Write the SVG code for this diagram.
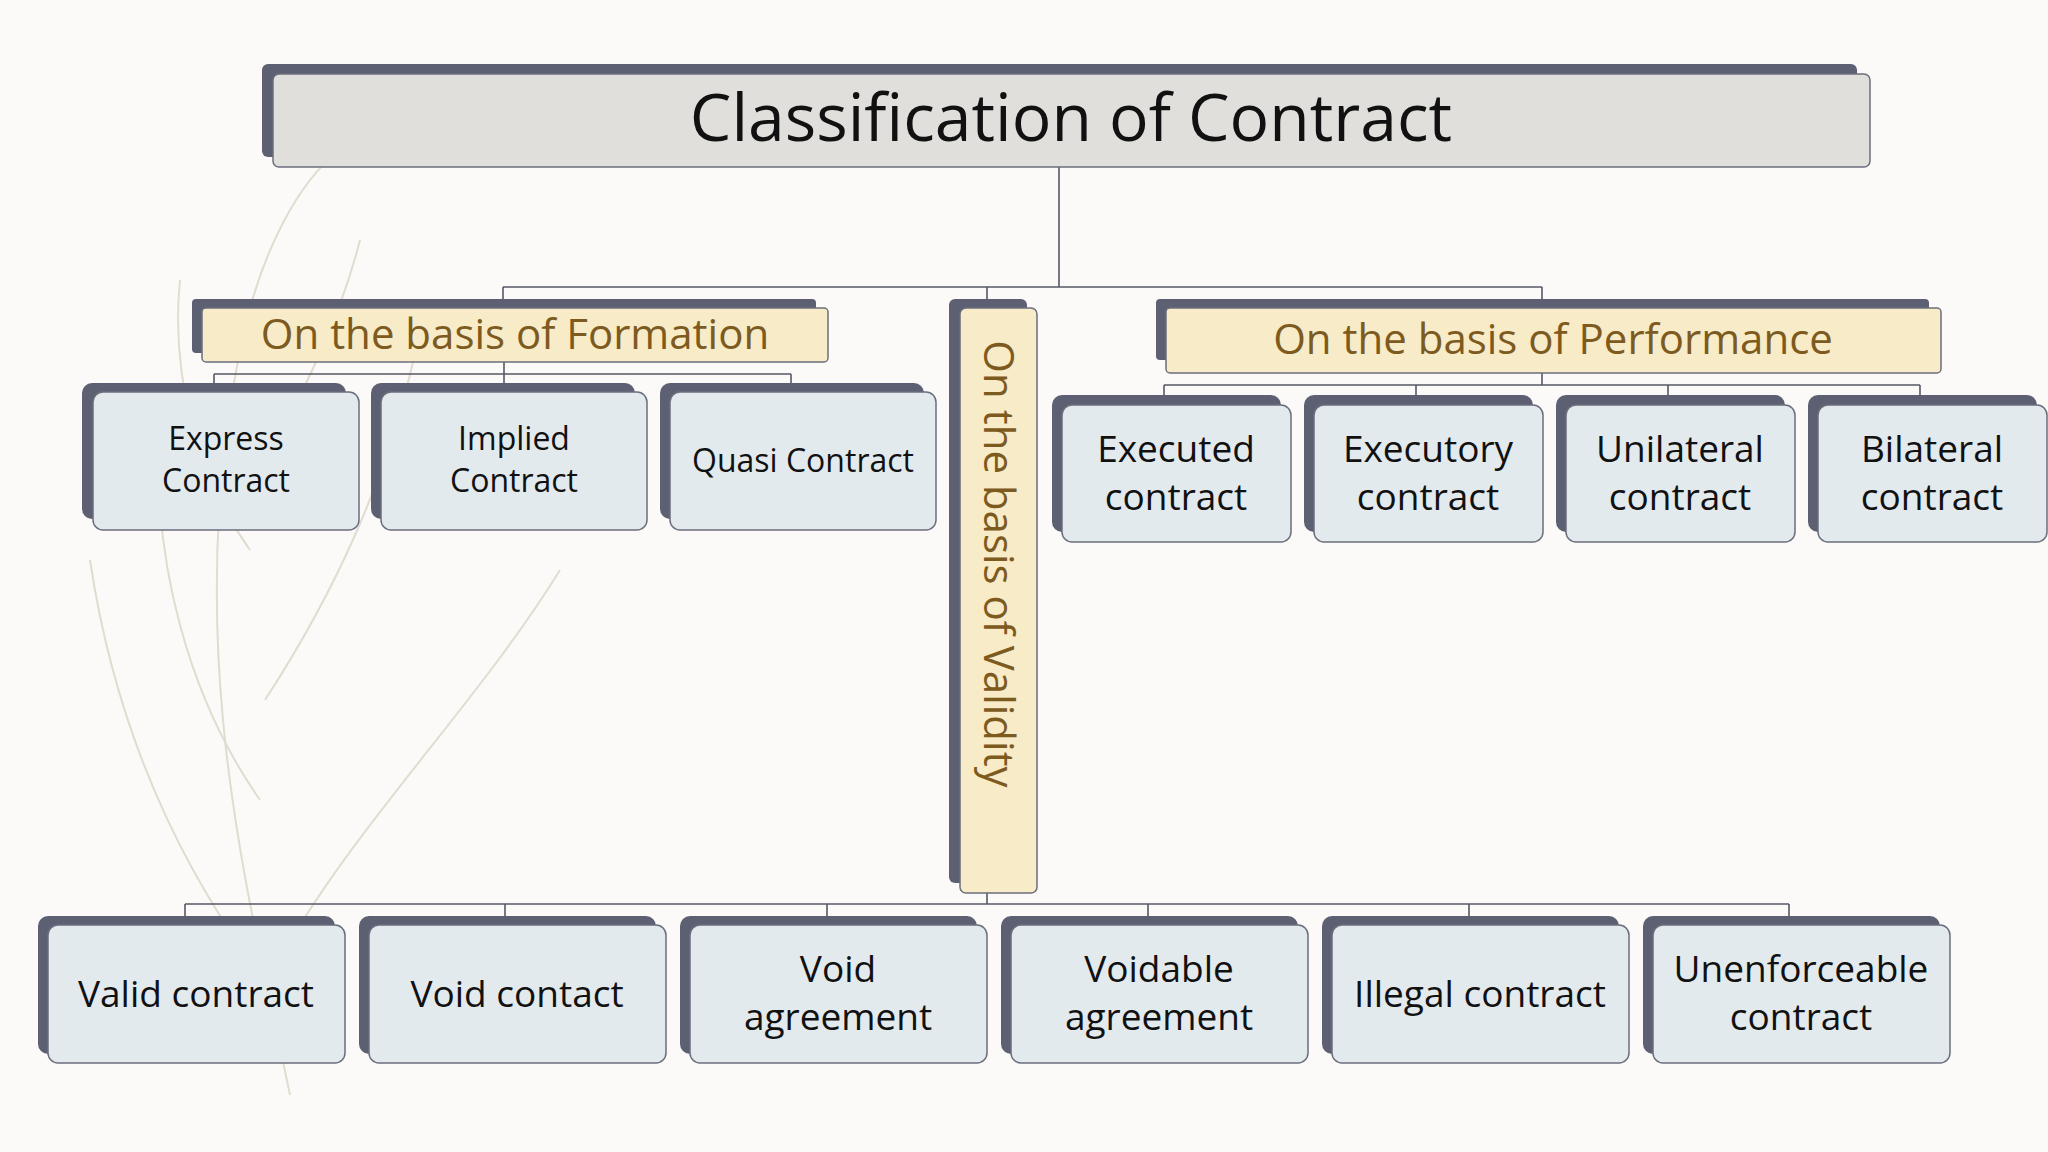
<svg xmlns="http://www.w3.org/2000/svg" width="2048" height="1152" viewBox="0 0 2048 1152">
<style>
.sh{fill:#5d6072}
.bx{fill:#e3eaee;stroke:#6b6e7c;stroke-width:1.5}
.hd{fill:#f7ebc8;stroke:#6b6e7c;stroke-width:1.5}
.t{font-family:"Open Sans","Noto Sans",sans-serif;fill:#111;text-anchor:middle}
.h{font-family:"Open Sans","Noto Sans",sans-serif;fill:#7d5a1e;text-anchor:middle;font-size:42px}
.c{stroke:#555866;stroke-width:1.6;fill:none}
.f{stroke:#e0dcd0;stroke-width:2;fill:none}
</style>
<rect width="2048" height="1152" fill="#fcfaf8"/>
<g id="feather">
<path class="f" d="M290 1095 C250 900 180 650 240 350 C260 250 300 180 340 150"/>
<path class="f" d="M280 1000 C200 900 120 760 90 560"/>
<path class="f" d="M285 950 C360 820 480 700 560 570"/>
<path class="f" d="M260 800 C190 700 150 560 160 420"/>
<path class="f" d="M265 700 C330 600 390 480 420 330"/>
<path class="f" d="M250 550 C200 480 170 380 180 280"/>
<path class="f" d="M255 480 C300 400 340 320 360 240"/>
</g>
<g id="connectors">
<path class="c" d="M1059 167V287M503 287H1542M503 287V308M987 287V309M1542 287V300"/>
<path class="c" d="M504 362V374M214 374H791M214 374V385M504 374V385M791 374V385"/>
<path class="c" d="M1542 373V385M1164 385H1920M1164 385V396M1416 385V396M1668 385V396M1920 385V396"/>
<path class="c" d="M987 893V904M185 904H1789M185 904V918M505 904V918M827 904V918M1148 904V918M1469 904V918M1789 904V918"/>
</g>
<g id="title"><rect class="sh" x="262" y="64" width="1595" height="93" rx="6"/><rect x="273" y="74" width="1597" height="93" rx="6" fill="#e0dfdc" stroke="#6b6e7c" stroke-width="1.5"/><text class="t" x="1071" y="141" font-size="66">Classification of Contract</text></g>
<g id="formation"><rect class="sh" x="192" y="299" width="624" height="54" rx="4"/><rect class="hd" x="202" y="308" width="626" height="54" rx="4"/><text class="h" x="515" y="349">On the basis of Formation</text></g>
<g id="validity"><rect class="sh" x="949" y="299" width="78" height="584" rx="6"/><rect class="hd" x="960" y="308" width="77" height="585" rx="6"/><text class="h" transform="translate(984 564) rotate(90)">On the basis of Validity</text></g>
<g id="performance"><rect class="sh" x="1156" y="299" width="773" height="61" rx="4"/><rect class="hd" x="1166" y="308" width="775" height="65" rx="4"/><text class="h" x="1553" y="354">On the basis of Performance</text></g>
<g id="express"><rect class="sh" x="82" y="383" width="264" height="136" rx="10"/><rect class="bx" x="93" y="392" width="266" height="138" rx="10"/><text class="t" font-size="32" x="226" y="450">Express</text><text class="t" font-size="32" x="226" y="492">Contract</text></g>
<g id="implied"><rect class="sh" x="371" y="383" width="264" height="136" rx="10"/><rect class="bx" x="381" y="392" width="266" height="138" rx="10"/><text class="t" font-size="32" x="514" y="450">Implied</text><text class="t" font-size="32" x="514" y="492">Contract</text></g>
<g id="quasi"><rect class="sh" x="660" y="383" width="264" height="136" rx="10"/><rect class="bx" x="670" y="392" width="266" height="138" rx="10"/><text class="t" font-size="32" x="803" y="472">Quasi Contract</text></g>
<g id="executed"><rect class="sh" x="1052" y="395" width="229" height="137" rx="10"/><rect class="bx" x="1062" y="405" width="229" height="137" rx="10"/><text class="t" font-size="37" x="1176" y="462">Executed</text><text class="t" font-size="37" x="1176" y="510">contract</text></g>
<g id="executory"><rect class="sh" x="1304" y="395" width="229" height="137" rx="10"/><rect class="bx" x="1314" y="405" width="229" height="137" rx="10"/><text class="t" font-size="37" x="1428" y="462">Executory</text><text class="t" font-size="37" x="1428" y="510">contract</text></g>
<g id="unilateral"><rect class="sh" x="1556" y="395" width="229" height="137" rx="10"/><rect class="bx" x="1566" y="405" width="229" height="137" rx="10"/><text class="t" font-size="37" x="1680" y="462">Unilateral</text><text class="t" font-size="37" x="1680" y="510">contract</text></g>
<g id="bilateral"><rect class="sh" x="1808" y="395" width="229" height="137" rx="10"/><rect class="bx" x="1818" y="405" width="229" height="137" rx="10"/><text class="t" font-size="37" x="1932" y="462">Bilateral</text><text class="t" font-size="37" x="1932" y="510">contract</text></g>
<g id="valid"><rect class="sh" x="38" y="916" width="297" height="138" rx="10"/><rect class="bx" x="48" y="925" width="297" height="138" rx="10"/><text class="t" font-size="37" x="196" y="1007">Valid contract</text></g>
<g id="void"><rect class="sh" x="359" y="916" width="297" height="138" rx="10"/><rect class="bx" x="369" y="925" width="297" height="138" rx="10"/><text class="t" font-size="37" x="517" y="1007">Void contact</text></g>
<g id="voidagr"><rect class="sh" x="680" y="916" width="297" height="138" rx="10"/><rect class="bx" x="690" y="925" width="297" height="138" rx="10"/><text class="t" font-size="37" x="838" y="982">Void</text><text class="t" font-size="37" x="838" y="1030">agreement</text></g>
<g id="voidable"><rect class="sh" x="1001" y="916" width="297" height="138" rx="10"/><rect class="bx" x="1011" y="925" width="297" height="138" rx="10"/><text class="t" font-size="37" x="1159" y="982">Voidable</text><text class="t" font-size="37" x="1159" y="1030">agreement</text></g>
<g id="illegal"><rect class="sh" x="1322" y="916" width="297" height="138" rx="10"/><rect class="bx" x="1332" y="925" width="297" height="138" rx="10"/><text class="t" font-size="37" x="1480" y="1007">Illegal contract</text></g>
<g id="unenforceable"><rect class="sh" x="1643" y="916" width="297" height="138" rx="10"/><rect class="bx" x="1653" y="925" width="297" height="138" rx="10"/><text class="t" font-size="37" x="1801" y="982">Unenforceable</text><text class="t" font-size="37" x="1801" y="1030">contract</text></g>
</svg>
